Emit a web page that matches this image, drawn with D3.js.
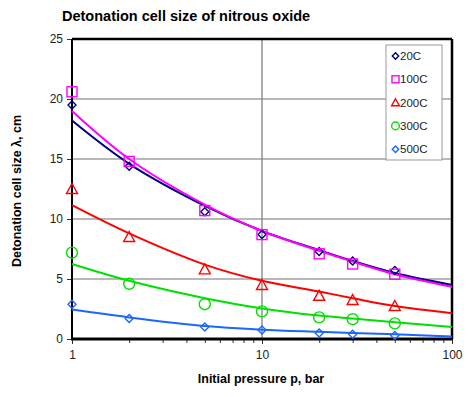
<!DOCTYPE html>
<html>
<head>
<meta charset="utf-8">
<script src="https://cdn.jsdelivr.net/npm/d3@7"></script>
<style>
  body { margin: 0; background: #fff; }
  svg { font-family: Arial, "Liberation Sans", sans-serif; }
  .title { font-weight: bold; font-size: 14.5px; fill: #000; }
  .axis-title { font-weight: bold; font-size: 12.5px; fill: #000; }
  .tick text { font-size: 12px; fill: #222; }
  .legend text { font-size: 11.5px; fill: #222; }
</style>
</head>
<body>
<svg id="chart"></svg>
<script>
// measured points: pressure (bar) vs cell size (cm)
const pressures = [1, 2, 5, 10, 20, 30, 50];
const cell20 = [19.5, 14.4, 10.6, 8.7, 7.3, 6.5, 5.7];
const cell100 = [20.6, 14.8, 10.7, 8.7, 7.1, 6.25, 5.4];
const cell200 = [12.5, 8.5, 5.8, 4.5, 3.6, 3.25, 2.75];
const cell300 = [7.2, 4.6, 2.9, 2.3, 1.8, 1.65, 1.3];
const cell500 = [2.9, 1.7, 1.0, 0.75, 0.5, 0.4, 0.3];

// fitted curves
const fitPressures = [1, 2, 5, 10, 20, 30, 50, 100];
const fit20 = [18.2, 14.6, 11.1, 9.0, 7.4, 6.5, 5.5, 4.5];
const fit100 = [19.0, 15.0, 11.2, 9.0, 7.35, 6.45, 5.4, 4.35];
const fit200 = [11.15, 8.8, 6.2, 4.85, 3.95, 3.4, 2.75, 2.15];
const fit300 = [6.25, 4.85, 3.4, 2.55, 1.95, 1.7, 1.4, 1.0];
const fit500 = [2.45, 1.8, 1.08, 0.78, 0.6, 0.5, 0.4, 0.2];

const seriesNames = ['20C', '100C', '200C', '300C', '500C'];
const xTicks = [1, 10, 100];
const yTicks = [0, 5, 10, 15, 20, 25];

const series = [
  {name: seriesNames[0], pts: cell20, fit: fit20, color: '#000080', shape: 'diamond'},
  {name: seriesNames[1], pts: cell100, fit: fit100, color: '#ff00ff', shape: 'square'},
  {name: seriesNames[2], pts: cell200, fit: fit200, color: '#ff0000', shape: 'triangle'},
  {name: seriesNames[3], pts: cell300, fit: fit300, color: '#00e000', shape: 'circle'},
  {name: seriesNames[4], pts: cell500, fit: fit500, color: '#1a66ff', shape: 'diamond'}
];

const width = 474, height = 397;
const margin = {top: 39, right: 22, bottom: 58, left: 72};
const w = width - margin.left - margin.right;
const h = height - margin.top - margin.bottom;

const svg = d3.select('#chart').attr('width', width).attr('height', height);

svg.append('text')
    .attr('class', 'title')
    .attr('x', 62)
    .attr('y', 21)
    .text('Detonation cell size of nitrous oxide');

const chart = svg.append('g')
    .attr('transform', `translate(${margin.left},${margin.top})`);

const xScale = d3.scaleLog().domain([1, 100]).range([0, w]);
const yScale = d3.scaleLinear().domain([0, 25]).range([h, 0]);

// gridlines
chart.append('g')
  .selectAll('line')
  .data(yTicks.filter(d => d > 0 && d < 25))
  .join('line')
    .attr('x1', 0).attr('x2', w)
    .attr('y1', d => yScale(d)).attr('y2', d => yScale(d))
    .attr('stroke', '#a0a0a0')
    .attr('stroke-width', 1.3);

chart.append('line')
    .attr('x1', xScale(10)).attr('x2', xScale(10))
    .attr('y1', 0).attr('y2', h)
    .attr('stroke', '#808080')
    .attr('stroke-width', 1.3);

// axes
const minorTicks = d3.range(2, 100).filter(d => d < 10 || d % 10 === 0);
const xAxisMinor = d3.axisBottom(xScale)
    .tickValues(minorTicks)
    .tickSize(4)
    .tickFormat('');
chart.append('g')
    .attr('transform', `translate(0,${h})`)
    .call(xAxisMinor)
    .call(g => g.select('.domain').remove())
    .call(g => g.selectAll('.tick line').attr('stroke', '#333'));

const xAxis = d3.axisBottom(xScale)
    .tickValues(xTicks)
    .tickFormat(d3.format('d'))
    .tickSize(5)
    .tickPadding(6)
    .tickSizeOuter(0);
chart.append('g')
    .attr('transform', `translate(0,${h})`)
    .call(xAxis)
    .call(g => g.select('.domain').remove())
    .call(g => g.selectAll('.tick line').attr('stroke', '#333'));

const yAxis = d3.axisLeft(yScale)
    .tickValues(yTicks)
    .tickSize(5)
    .tickPadding(4)
    .tickSizeOuter(0);
chart.append('g')
    .call(yAxis)
    .call(g => g.select('.domain').remove())
    .call(g => g.selectAll('.tick line').attr('stroke', '#333'));

// frame
chart.append('line').attr('x1', 0).attr('x2', w).attr('y1', 0).attr('y2', 0)
    .attr('stroke', '#000').attr('stroke-width', 2.5);
chart.append('line').attr('x1', w).attr('x2', w).attr('y1', 0).attr('y2', h)
    .attr('stroke', '#000').attr('stroke-width', 2.5);
chart.append('line').attr('x1', 0).attr('x2', 0).attr('y1', 0).attr('y2', h)
    .attr('stroke', '#000').attr('stroke-width', 2);
chart.append('line').attr('x1', -1).attr('x2', w + 1).attr('y1', h).attr('y2', h)
    .attr('stroke', '#000').attr('stroke-width', 3);

// fit lines
const line = d3.line()
    .x(d => xScale(d[0]))
    .y(d => yScale(d[1]))
    .curve(d3.curveCatmullRom);

chart.append('g')
  .selectAll('path')
  .data(series)
  .join('path')
    .attr('fill', 'none')
    .attr('stroke', d => d.color)
    .attr('stroke-width', 2)
    .attr('d', d => line(fitPressures.map((p, i) => [p, d.fit[i]])));

// markers
function drawMarker(g, shape, color, k = 1) {
  if (shape === 'square') {
    g.append('rect').attr('x', -5 * k).attr('y', -5 * k).attr('width', 10 * k).attr('height', 10 * k);
  } else if (shape === 'triangle') {
    g.append('path').attr('d', `M0,${-5.5 * k}L${5.5 * k},${4.5 * k}L${-5.5 * k},${4.5 * k}Z`);
  } else if (shape === 'circle') {
    g.append('circle').attr('r', 5.5 * k);
  } else {
    g.append('path').attr('d', `M0,${-4 * k}L${4 * k},0L0,${4 * k}L${-4 * k},0Z`);
  }
  g.selectAll('*')
      .attr('fill', 'none')
      .attr('stroke', color)
      .attr('stroke-width', 1.4);
}

series.forEach(s => {
  chart.append('g')
    .selectAll('g')
    .data(pressures.map((p, i) => [p, s.pts[i]]))
    .join('g')
      .attr('transform', d => `translate(${xScale(d[0])},${yScale(d[1])})`)
      .each(function() { drawMarker(d3.select(this), s.shape, s.color); });
});

// legend
const legend = svg.append('g')
    .attr('class', 'legend')
    .attr('transform', 'translate(386,45)');

legend.append('rect')
    .attr('width', 56)
    .attr('height', 115)
    .attr('fill', '#fff')
    .attr('stroke', '#999')
    .attr('stroke-width', 1);

const item = legend.selectAll('.item')
  .data(series)
  .join('g')
    .attr('class', 'item')
    .attr('transform', (d, i) => `translate(0,${11 + i * 23.3})`);

item.append('g')
    .attr('transform', 'translate(9.5,0)')
    .each(function(d) { drawMarker(d3.select(this), d.shape, d.color, d.shape === 'diamond' ? 0.8 : 0.7); });

item.append('text')
    .attr('x', 14)
    .attr('y', 4)
    .text(d => d.name);

// axis titles
svg.append('text')
    .attr('class', 'axis-title')
    .attr('text-anchor', 'middle')
    .attr('x', 261)
    .attr('y', 383)
    .text('Initial pressure p, bar');

svg.append('text')
    .attr('class', 'axis-title')
    .attr('text-anchor', 'middle')
    .attr('transform', 'translate(21,191) rotate(-90)')
    .text('Detonation cell size λ, cm');
</script>
</body>
</html>
